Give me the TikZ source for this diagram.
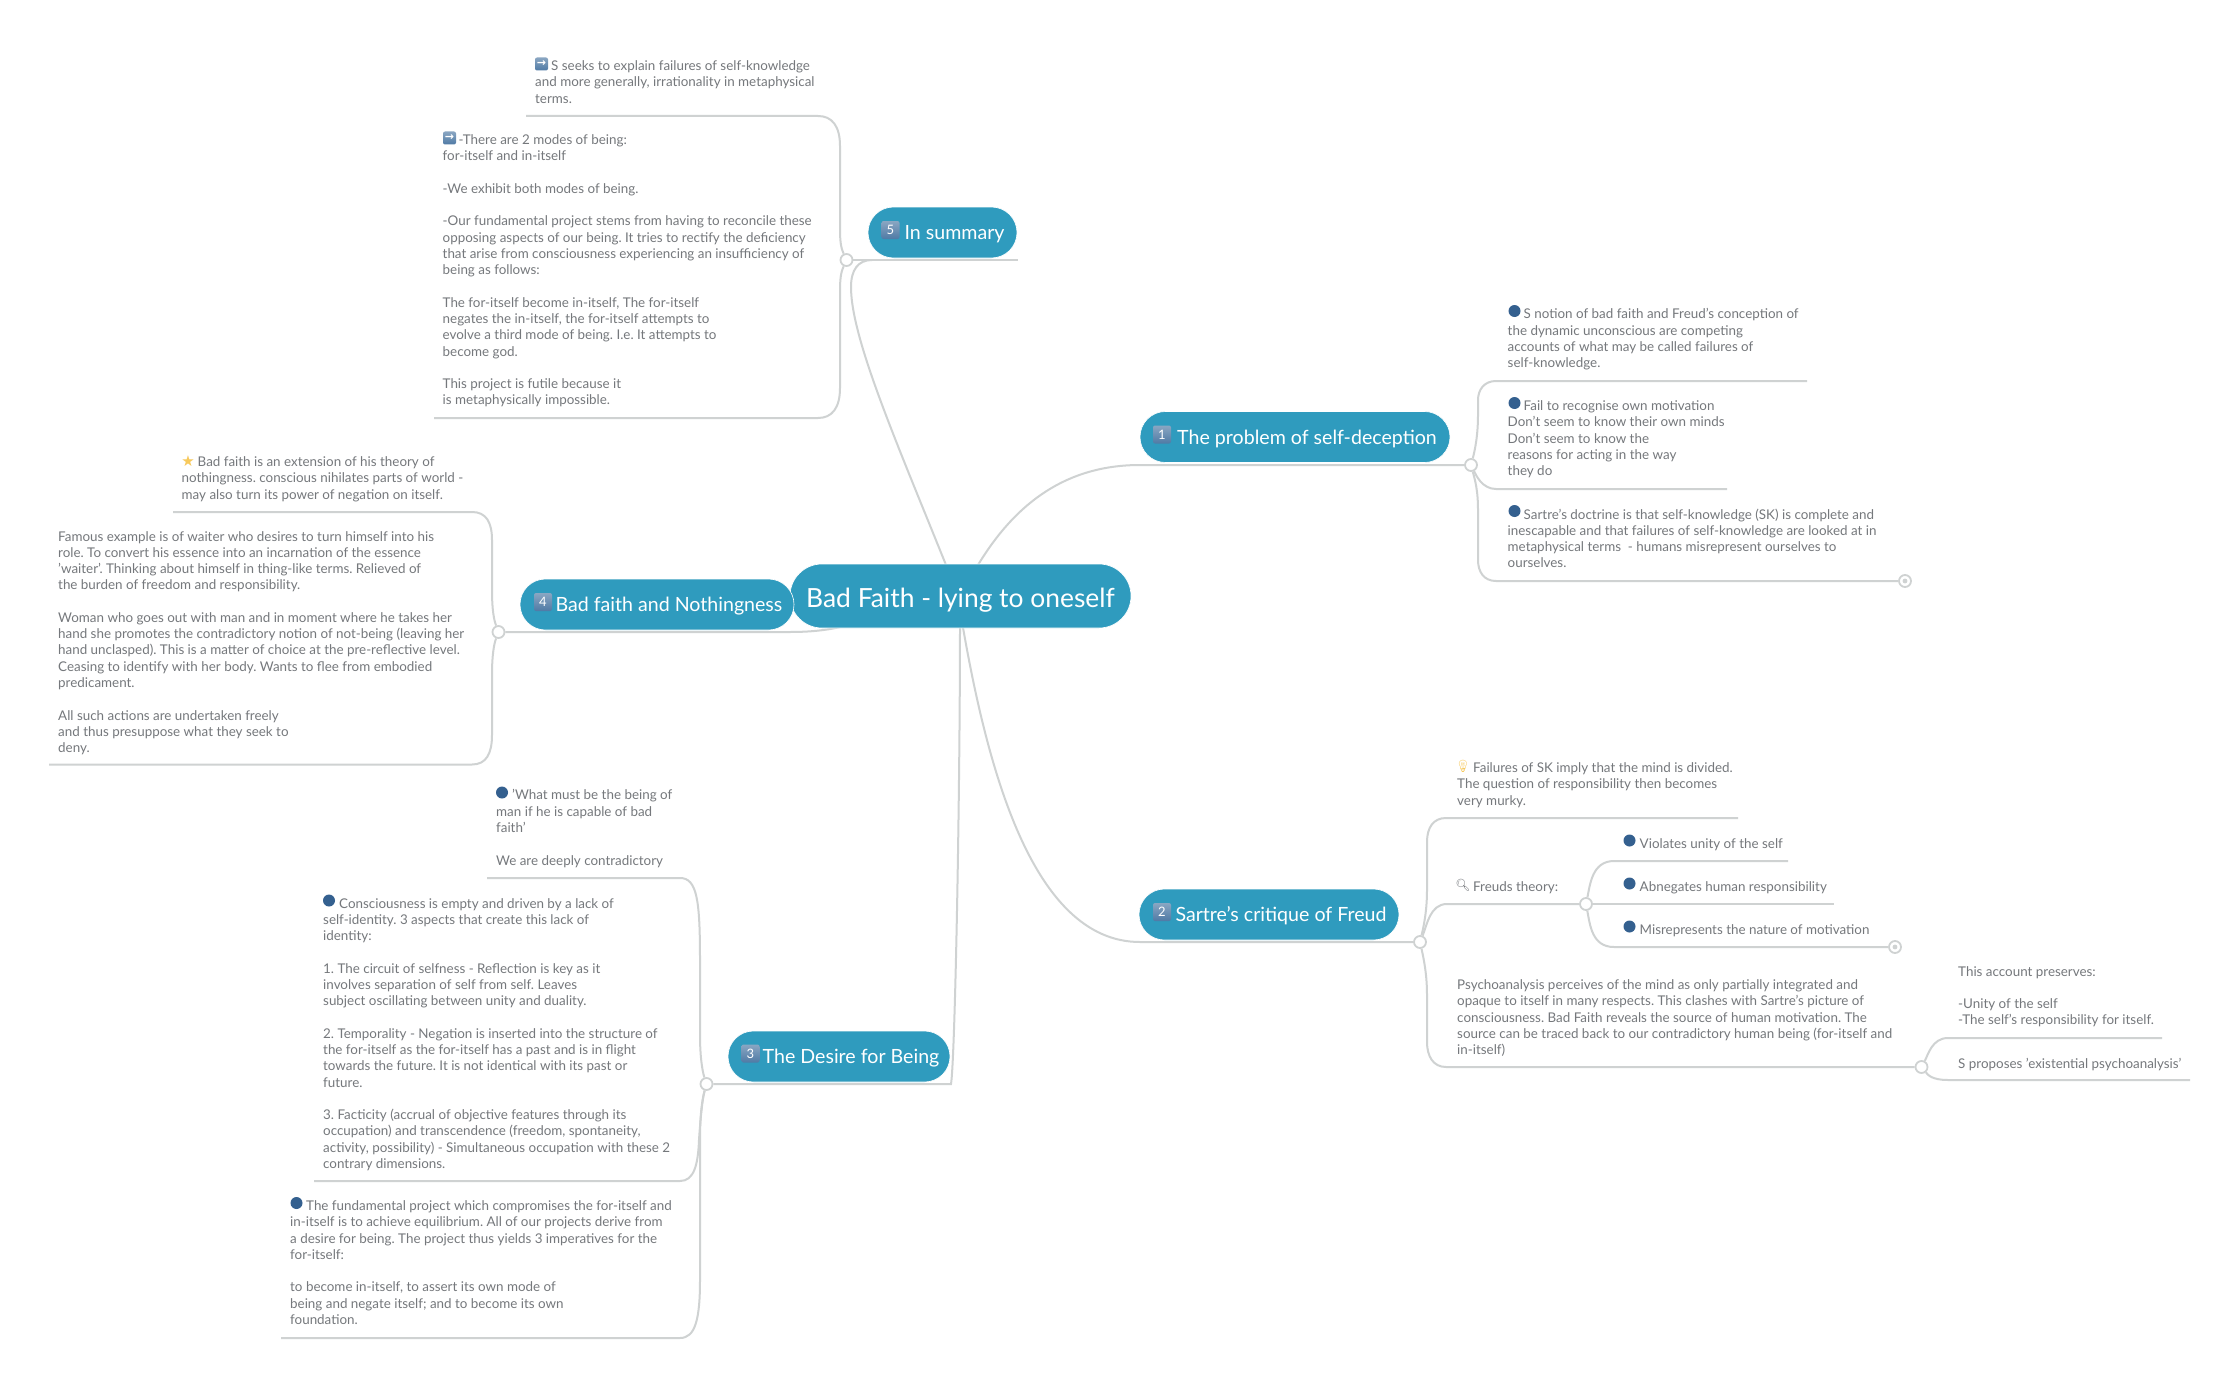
\documentclass[tikz,border=0pt]{standalone}
\usepackage{fontspec}
\setmainfont{Lato}
\newfontfamily\symbolfont{DejaVu Sans}
\newfontfamily\emojifont{Noto Emoji}
\usetikzlibrary{backgrounds,shapes.misc}
\definecolor{pillblue}{HTML}{2F9BBE}
\definecolor{twiggrey}{HTML}{CFD2D2}
\definecolor{notegrey}{HTML}{75787C}
\definecolor{dotblue}{HTML}{34608F}
\definecolor{captop}{HTML}{8AA6C2}
\definecolor{capbottom}{HTML}{4F7AA5}
\definecolor{staryellow}{HTML}{F7C95C}
\tikzset{
    pill/.style={rounded rectangle, fill=pillblue, draw=white, line width=0.6pt, text=white, inner sep=0pt,
        minimum height=51pt, text height=18pt, text depth=4pt, font=\fontsize{19.6}{22}\selectfont},
    rootpill/.style={pill, minimum height=64pt, text height=25pt, text depth=2pt,
        font=\fontsize{26.4}{28}\selectfont},
    keycap/.style={top color=captop, bottom color=capbottom, rounded corners=2pt, text=white, inner sep=0pt,
        minimum size=18pt, font=\fontsize{13}{13}\selectfont},
    arrowcap/.style={keycap, minimum size=13pt, font=\symbolfont\fontsize{11}{11}\selectfont\bfseries},
    note/.style={anchor=north west, inner sep=0pt, align=left, text=notegrey, yshift=-2.5pt,
        font=\fontsize{13.4}{16.27}\selectfont\frenchspacing, execute at begin node=\strut},
    dotmark/.style={circle, fill=dotblue, inner sep=0pt, minimum size=12pt},
    iconmark/.style={inner sep=0pt, text=notegrey, font=\emojifont\fontsize{12}{12}\selectfont},
    hub/.style={circle, draw=twiggrey, fill=white, line width=1.8pt, inner sep=0pt, minimum size=12pt},
    endhub/.style={hub, path picture={\fill[twiggrey] (path picture bounding box.center) circle (2.4pt);}},
    twig/.style={draw=twiggrey, line width=2pt}
}
\begin{document}
\begin{tikzpicture}[x=1pt,y=-1pt]
    \useasboundingbox (0,0) rectangle (2239,1386);

    % centre and main topics
    \node[rootpill, minimum width=341pt] (root) at (960.5,596) {Bad Faith - lying to oneself};
    \node[pill, minimum width=310pt] (prob) at (1295,437) {\hspace*{24pt}The problem of self-deception};
    \node[pill, minimum width=260pt] (crit) at (1269,914.5) {\hspace*{24pt}Sartre's critique of Freud};
    \node[pill, minimum width=222pt] (desire) at (839,1056.5) {\hspace*{24pt}The Desire for Being};
    \node[pill, minimum width=274pt] (faith) at (657,604.5) {\hspace*{24pt}Bad faith and Nothingness};
    \node[pill, minimum width=149pt] (sum) at (942.5,232.5) {\hspace*{24pt}In summary};

    % number caps
    \node[keycap] (capprob) at (1162,434.5) {1};
    \node[keycap] (capcrit) at (1162,912) {2};
    \node[keycap] (capdesire) at (750.5,1053.5) {3};
    \node[keycap] (capfaith) at (543,602) {4};
    \node[keycap] (capsum) at (890.5,230) {5};

    % 1 The problem of self-deception
    \node[note] (probA) at (1507.5,306) {\hspace*{16pt}S notion of bad faith and Freud's conception of\\the dynamic unconscious are competing\\accounts of what may be called failures of\\self-knowledge.};
    \node[note] (probB) at (1507.5,398) {\hspace*{16pt}Fail to recognise own motivation\\Don't seem to know their own minds\\Don't seem to know the\\reasons for acting in the way\\they do};
    \node[note] (probC) at (1507.5,506) {\hspace*{16pt}Sartre's doctrine is that self-knowledge (SK) is complete and\\inescapable and that failures of self-knowledge are looked at in\\metaphysical terms\ \ - humans misrepresent ourselves to\\ourselves.};
    \node[dotmark] (dotprobA) at (1514.5,311) {};
    \node[dotmark] (dotprobB) at (1514.5,403) {};
    \node[dotmark] (dotprobC) at (1514.5,511) {};

    % 2 Sartre's critique of Freud
    \node[note] (critA) at (1457,760) {\hspace*{16pt}Failures of SK imply that the mind is divided.\\The question of responsibility then becomes\\very murky.};
    \node[note] (critB) at (1457,877) {\hspace*{16pt}Freuds theory:};
    \node[note] (critC) at (1457,977) {Psychoanalysis perceives of the mind as only partially integrated and\\opaque to itself in many respects. This clashes with Sartre's picture of\\consciousness. Bad Faith reveals the source of human motivation. The\\source can be traced back to our contradictory human being (for-itself and\\in-itself)};
    \node[note] (freudA) at (1639.5,834) {Violates unity of the self};
    \node[note] (freudB) at (1639.5,877) {Abnegates human responsibility};
    \node[note] (freudC) at (1639.5,920) {Misrepresents the nature of motivation};
    \node[note] (psyA) at (1958,963.5) {This account preserves:\\ \\-Unity of the self\\-The self's responsibility for itself.};
    \node[note] (psyB) at (1958,1054) {S proposes 'existential psychoanalysis'};
    \node[iconmark, text=staryellow] (bulb) at (1463,766) {💡};
    \node[iconmark] (lens) at (1463,885) {🔍};
    \node[dotmark] (dotfreudA) at (1629.5,840.5) {};
    \node[dotmark] (dotfreudB) at (1629.5,883.5) {};
    \node[dotmark] (dotfreudC) at (1629.5,926.5) {};

    % 3 The Desire for Being
    \node[note] (desireA) at (496,787) {\hspace*{16pt}'What must be the being of\\man if he is capable of bad\\faith'\\ \\We are deeply contradictory};
    \node[note] (desireB) at (323,895.5) {\hspace*{16pt}Consciousness is empty and driven by a lack of\\self-identity. 3 aspects that create this lack of\\identity:\\ \\1. The circuit of selfness - Reflection is key as it\\involves separation of self from self. Leaves\\subject oscillating between unity and duality.\\ \\2. Temporality - Negation is inserted into the structure of\\the for-itself as the for-itself has a past and is in flight\\towards the future. It is not identical with its past or\\future.\\ \\3. Facticity (accrual of objective features through its\\occupation) and transcendence (freedom, spontaneity,\\activity, possibility) - Simultaneous occupation with these 2\\contrary dimensions.};
    \node[note] (desireC) at (290,1198) {\hspace*{16pt}The fundamental project which compromises the for-itself and\\in-itself is to achieve equilibrium. All of our projects derive from\\a desire for being. The project thus yields 3 imperatives for the\\for-itself:\\ \\to become in-itself, to assert its own mode of\\being and negate itself; and to become its own\\foundation.};
    \node[dotmark] (dotdesireA) at (502,792.5) {};
    \node[dotmark] (dotdesireB) at (329,900.5) {};
    \node[dotmark] (dotdesireC) at (296.5,1203) {};

    % 4 Bad faith and Nothingness
    \node[note] (faithA) at (181.5,454) {\hspace*{16pt}Bad faith is an extension of his theory of\\nothingness. conscious nihilates parts of world -\\may also turn its power of negation on itself.};
    \node[note] (faithB) at (58,528.5) {Famous example is of waiter who desires to turn himself into his\\role. To convert his essence into an incarnation of the essence\\'waiter'. Thinking about himself in thing-like terms. Relieved of\\the burden of freedom and responsibility.\\ \\Woman who goes out with man and in moment where he takes her\\hand she promotes the contradictory notion of not-being (leaving her\\hand unclasped). This is a matter of choice at the pre-reflective level.\\Ceasing to identify with her body. Wants to flee from embodied\\predicament.\\ \\All such actions are undertaken freely\\and thus presuppose what they seek to\\deny.};
    \node[inner sep=0pt, text=staryellow, font=\symbolfont\fontsize{15}{15}\selectfont] (star) at (188,461) {★};

    % 5 In summary
    \node[note] (sumA) at (535,58) {\hspace*{16pt}S seeks to explain failures of self-knowledge\\and more generally, irrationality in metaphysical\\terms.};
    \node[note] (sumB) at (442.5,132) {\hspace*{16pt}-There are 2 modes of being:\\for-itself and in-itself\\ \\-We exhibit both modes of being.\\ \\-Our fundamental project stems from having to reconcile these\\opposing aspects of our being. It tries to rectify the deficiency\\that arise from consciousness experiencing an insufficiency of\\being as follows:\\ \\The for-itself become in-itself, The for-itself\\negates the in-itself, the for-itself attempts to\\evolve a third mode of being. I.e. It attempts to\\become god.\\ \\This project is futile because it\\is metaphysically impossible.};
    \node[arrowcap] (arrowA) at (541.5,64) {→};
    \node[arrowcap] (arrowB) at (449.5,138) {→};

    % fold circles
    \node[hub] (hubprob) at (1471,465) {};
    \node[hub] (hubcrit) at (1420,942) {};
    \node[hub] (hubfreud) at (1586,904) {};
    \node[hub] (hubpsy) at (1921.5,1067) {};
    \node[hub] (hubdesire) at (706.5,1084) {};
    \node[hub] (hubfaith) at (498.5,632) {};
    \node[hub] (hubsum) at (846.5,260) {};
    \node[endhub] (markprob) at (1905,581) {};
    \node[endhub] (markfreud) at (1895,947) {};

    % free ends of the lines
    \coordinate (rootN) at (950,575);
    \coordinate (rootE) at (975,570);
    \coordinate (rootS) at (960,610);
    \coordinate (rootB) at (960,620);
    \coordinate (rootW) at (870,615);
    \coordinate (endprob) at (1450,465);
    \coordinate (endcrit) at (1400,942);
    \coordinate (enddesire) at (951,1084);
    \coordinate (endsum) at (1018,260);
    \coordinate (endprobA) at (1807,381);
    \coordinate (endprobB) at (1727,489);
    \coordinate (endcritA) at (1738,818);
    \coordinate (endfreudA) at (1788,861);
    \coordinate (endfreudB) at (1834,904);
    \coordinate (endpsyA) at (2162,1038);
    \coordinate (endpsyB) at (2190,1080);
    \coordinate (enddesireA) at (487,878);
    \coordinate (enddesireB) at (314,1181);
    \coordinate (enddesireC) at (281,1338);
    \coordinate (endfaithA) at (173,512);
    \coordinate (endfaithB) at (49,764.5);
    \coordinate (endsumA) at (526,116);
    \coordinate (endsumB) at (434,418);

    \begin{scope}[on background layer]
        \fill[white] (0,0) rectangle (2239,1386);

        % root to topics
        \draw[twig] (rootE) .. controls (1010,510) and (1060,465) .. (1140,465) -- (endprob) -- (hubprob);
        \draw[twig] (rootS) .. controls (985,760) and (1030,942) .. (1140,942) -- (endcrit) -- (hubcrit);
        \draw[twig] (rootB) .. controls (960,800) and (955,1060) .. (enddesire) -- (hubdesire);
        \draw[twig] (rootW) .. controls (850,628) and (820,632) .. (790,632) -- (hubfaith);
        \draw[twig] (rootN) .. controls (900,450) and (851,340) .. (851,287) .. controls (851,270) and (858,260) .. (872,260);
        \draw[twig] (hubsum) -- (endsum);

        % problem
        \draw[twig] (hubprob) .. controls (1475,450) and (1478,435) .. (1478,415) -- (1478,400) .. controls (1478,390) and (1484,381) .. (1496,381) -- (endprobA);
        \draw[twig] (hubprob) .. controls (1476,475) and (1482,489) .. (1496,489) -- (endprobB);
        \draw[twig] (hubprob) .. controls (1475,480) and (1478,490) .. (1478,510) -- (1478,560) .. controls (1478,572) and (1484,581) .. (1496,581) -- (markprob);

        % critique
        \draw[twig] (hubcrit) .. controls (1424,925) and (1427,910) .. (1427,890) -- (1427,842) .. controls (1427,828) and (1433,818) .. (1446,818) -- (endcritA);
        \draw[twig] (hubcrit) .. controls (1427,925) and (1430,904) .. (1447,904) -- (hubfreud);
        \draw[twig] (hubcrit) .. controls (1424,960) and (1427,975) .. (1427,995) -- (1427,1042) .. controls (1427,1056) and (1433,1067) .. (1446,1067) -- (hubpsy);
        \draw[twig] (hubfreud) .. controls (1590,885) and (1592,861) .. (1614,861) -- (endfreudA);
        \draw[twig] (hubfreud) -- (endfreudB);
        \draw[twig] (hubfreud) .. controls (1590,925) and (1592,947) .. (1614,947) -- (markfreud);
        \draw[twig] (hubpsy) .. controls (1928,1055) and (1932,1038) .. (1948,1038) -- (endpsyA);
        \draw[twig] (hubpsy) .. controls (1928,1075) and (1932,1080) .. (1948,1080) -- (endpsyB);

        % desire
        \draw[twig] (hubdesire) .. controls (702,1070) and (700,1055) .. (700,1035) -- (700,960) .. controls (700,900) and (697,878) .. (680,878) -- (enddesireA);
        \draw[twig] (hubdesire) .. controls (702,1100) and (700,1125) .. (699,1140) .. controls (698,1165) and (694,1181) .. (680,1181) -- (enddesireB);
        \draw[twig] (hubdesire) .. controls (702,1100) and (700,1115) .. (700,1140) -- (700,1280) .. controls (700,1320) and (695,1338) .. (680,1338) -- (enddesireC);

        % faith
        \draw[twig] (hubfaith) .. controls (494,620) and (492,610) .. (492,590) -- (492,540) .. controls (492,522) and (486,512) .. (472,512) -- (endfaithA);
        \draw[twig] (hubfaith) .. controls (494,644) and (492,655) .. (492,675) -- (492,735) .. controls (492,754) and (486,764.5) .. (472,764.5) -- (endfaithB);

        % summary
        \draw[twig] (hubsum) .. controls (842,250) and (840,245) .. (840,230) -- (840,146) .. controls (840,126) and (832,116) .. (818,116) -- (endsumA);
        \draw[twig] (hubsum) .. controls (842,270) and (840,275) .. (840,290) -- (840,388) .. controls (840,408) and (832,418) .. (818,418) -- (endsumB);
    \end{scope}
\end{tikzpicture}
\end{document}
